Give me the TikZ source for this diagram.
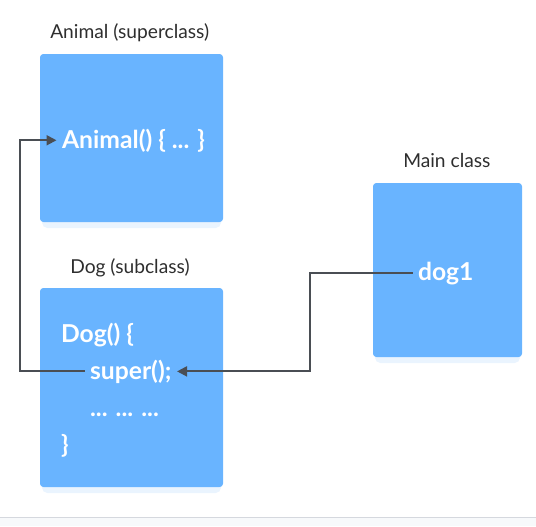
\documentclass[tikz,border=0pt]{standalone}
\usepackage{fontspec}
\setmainfont{Lato}
\usetikzlibrary{arrows.meta, positioning}
\definecolor{boxblue}{HTML}{69B4FF}
\definecolor{shadowblue}{HTML}{EAF4FE}
\definecolor{linegray}{HTML}{4A4E54}
\definecolor{titlegray}{HTML}{2E2E2E}
\definecolor{footgray}{HTML}{F7F9FB}
\definecolor{rulegray}{HTML}{D5D8DE}

\begin{document}
\begin{tikzpicture}[x=0.75pt, y=-0.75pt,
    classbox/.style={fill=boxblue, rounded corners=2.5pt},
    boxshadow/.style={fill=shadowblue, rounded corners=4pt},
    title/.style={anchor=base west, inner sep=0pt, text=titlegray,
                  font=\fontsize{14.4}{17}\selectfont},
    code/.style={anchor=base west, inner sep=4pt, text=white,
                 font=\fontsize{18.5}{22}\selectfont\bfseries},
    link/.style={linegray, line width=1.5pt, -{Triangle[length=7.5pt,width=7.5pt]}}]
  \useasboundingbox (0,0) rectangle (536,526);

  % Footer band
  \fill[footgray] (0,517) rectangle (536,526);
  \draw[rulegray, line width=0.75pt] (0,517) -- (536,517);

  % Shadows
  \fill[boxshadow] (42,60) rectangle (221,228);
  \fill[boxshadow] (42,294) rectangle (221,493);
  \fill[boxshadow] (375,189) rectangle (520,363);

  % Boxes
  \fill[classbox] (40,54) rectangle (223,222);
  \fill[classbox] (40,288) rectangle (223,487);
  \fill[classbox] (373,183) rectangle (522,357);

  % Titles
  \node[title] (animaltitle) at (50,38) {Animal (superclass)};
  \node[title] (dogtitle) at (70,273) {Dog (subclass)};
  \node[title] (maintitle) at (403,167) {Main class};

  % Code
  \node[code] (animal) at (56.5,148) {Animal() \{ ... \}};
  \node[code] (dogopen) at (55.5,342) {Dog() \{};
  \node[code] (super) at (84.5,379) {super();};
  \node[code] (dots) at (84.5,416) {... ... ...};
  \node[code] (dogclose) at (55.5,453) {\}};
  \node[code] (dog1) at (412.5,280) {dog1};

  % Connectors
  \coordinate (loopL) at (20,0);
  \coordinate (loopR) at (310,0);
  \draw[link] (super.west) -- (super.west -| loopL) |- (animal.west);
  \draw[link] (dog1.west) -- (dog1.west -| loopR) |- (super.east);
\end{tikzpicture}
\end{document}
